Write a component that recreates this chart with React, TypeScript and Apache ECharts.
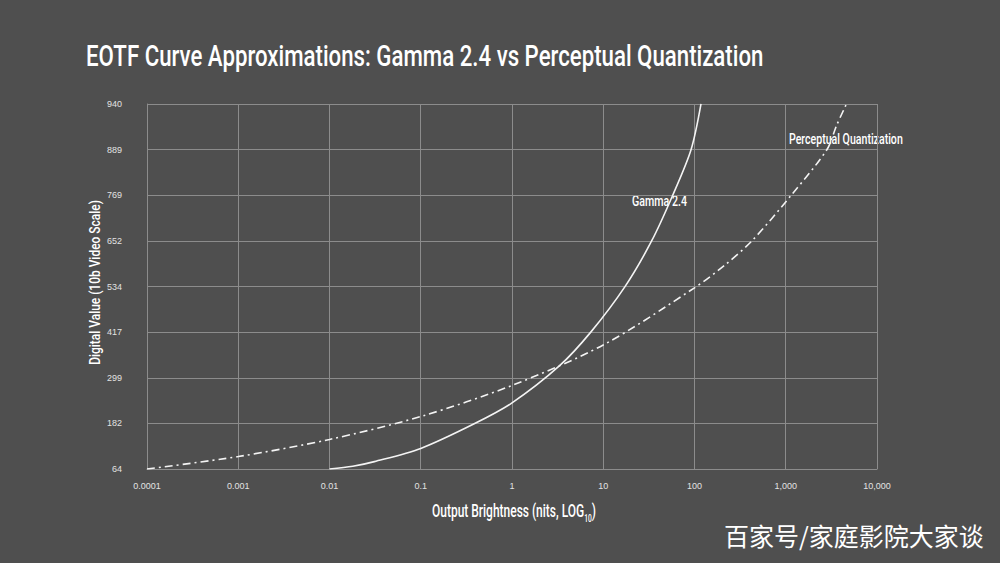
import React, { useEffect, useRef } from "react";
import * as echarts from "echarts";

const X_LABELS = ["0.0001", "0.001", "0.01", "0.1", "1", "10", "100", "1,000", "10,000"];
const Y_LABELS = ["64", "182", "299", "417", "534", "652", "769", "889", "940"];
const CODE_BLACK = 64;
const CODE_STEP = 117.333;

const GAMMA_NITS = [0.01, 0.018, 0.031, 0.1, 0.39, 1, 3.3, 7.3, 17.3, 34, 57.7, 91.6, 117.8];
const GAMMA_CODE = [64, 71, 83, 117, 181, 234, 329, 416, 533, 651, 768, 885, 1003];

const PQ_NITS = [0.0001, 0.001, 0.01, 0.1, 1, 10, 100, 214, 427, 1148, 2818, 3630, 4570];
const PQ_CODE = [64, 96, 140, 199, 279, 383, 530, 588, 651, 768, 885, 949, 1000];

const TITLE = "EOTF Curve Approximations: Gamma 2.4 vs Perceptual Quantization";
const X_NAME = "Output Brightness (nits, LOG";
const X_NAME_SUB = "10";
const Y_NAME = "Digital Value (10b Video Scale)";
const GAMMA_LABEL = "Gamma 2.4";
const PQ_LABEL = "Perceptual Quantization";
const WATERMARK = "百家号/家庭影院大家谈";

const FONT = "Roboto, 'Liberation Sans', Arial, sans-serif";
const WEIGHT = 500;

function measure(text: string, size: number): number {
  const ctx = document.createElement("canvas").getContext("2d")!;
  ctx.font = `${WEIGHT} ${size}px Roboto, 'Liberation Sans', Arial, sans-serif`;
  return ctx.measureText(text).width;
}

export default function App() {
  const ref = useRef<HTMLDivElement>(null);
  useEffect(() => {
    document.body.style.margin = "0";
    const chart = echarts.init(ref.current!, null, { renderer: "svg" });
    const gridColor = "#8c8c8c";
    const toPairs = (xs: number[], ys: number[]) => xs.map((x, i) => [x, ys[i] - CODE_BLACK]);

    const condensed = (text: string, size: number, width: number) => width / measure(text, size);
    const txt = (text: string, size: number, extra: object = {}) => ({
      text,
      fill: "#ffffff",
      fontSize: size,
      fontFamily: FONT,
      fontWeight: WEIGHT,
      verticalAlign: "middle",
      ...extra,
    });

    const xw1 = measure(X_NAME, 18);
    const xw2 = measure(X_NAME_SUB, 10);
    const xw3 = measure(")", 18);
    const xScale = 164 / (xw1 + xw2 + xw3);

    chart.setOption({
      animation: false,
      backgroundColor: "#4f4f4f",
      grid: { left: 147, right: 123, top: 104, bottom: 94 },
      xAxis: {
        type: "log",
        logBase: 10,
        min: 0.0001,
        max: 10000,
        splitNumber: 8,
        axisLine: { show: true, lineStyle: { color: gridColor } },
        axisTick: { show: false },
        axisLabel: {
          color: "#e2e2e2",
          fontSize: 9,
          fontFamily: "'Liberation Sans', Arial, sans-serif",
          margin: 12,
          formatter: (v: number) => X_LABELS[Math.round(Math.log10(v)) + 4] ?? "",
        },
        splitLine: { show: true, lineStyle: { color: gridColor, width: 1 } },
        minorTick: { show: false },
      },
      yAxis: {
        type: "value",
        min: 0,
        max: CODE_STEP * 8,
        interval: CODE_STEP,
        axisLine: { show: true, lineStyle: { color: gridColor } },
        axisTick: { show: false },
        axisLabel: {
          color: "#e2e2e2",
          fontSize: 9,
          fontFamily: "'Liberation Sans', Arial, sans-serif",
          margin: 25,
          formatter: (v: number) => Y_LABELS[Math.round(v / CODE_STEP)] ?? "",
        },
        splitLine: { show: true, lineStyle: { color: gridColor, width: 1 } },
      },
      series: [
        {
          name: GAMMA_LABEL,
          type: "line",
          data: toPairs(GAMMA_NITS, GAMMA_CODE),
          showSymbol: false,
          smooth: 0.3,
          lineStyle: { color: "#f4f4f4", width: 1.6 },
          clip: true,
        },
        {
          name: PQ_LABEL,
          type: "line",
          data: toPairs(PQ_NITS, PQ_CODE),
          showSymbol: false,
          smooth: 0.3,
          lineStyle: { color: "#f4f4f4", width: 1.6, type: [8, 4, 2, 4] },
          clip: true,
        },
      ],
      graphic: [
        {
          type: "text",
          x: 86,
          y: 56,
          scaleX: condensed(TITLE, 30, 678),
          style: txt(TITLE, 30, { align: "left" }),
        },
        {
          type: "text",
          x: 94,
          y: 282.5,
          rotation: Math.PI / 2,
          scaleX: condensed(Y_NAME, 15, 165),
          style: txt(Y_NAME, 15, { align: "center" }),
        },
        {
          type: "group",
          x: 432,
          y: 511,
          scaleX: xScale,
          children: [
            { type: "text", x: 0, y: 0, style: txt(X_NAME, 18) },
            { type: "text", x: xw1, y: 7, style: txt(X_NAME_SUB, 10) },
            { type: "text", x: xw1 + xw2, y: 0, style: txt(")", 18) },
          ],
        },
        {
          type: "text",
          x: 632,
          y: 200.5,
          scaleX: condensed(GAMMA_LABEL, 15, 55),
          style: txt(GAMMA_LABEL, 15),
        },
        {
          type: "text",
          x: 789,
          y: 138.5,
          scaleX: condensed(PQ_LABEL, 15, 114),
          style: txt(PQ_LABEL, 15),
        },
        {
          type: "text",
          x: 724,
          y: 535,
          style: {
            text: WATERMARK,
            fill: "#ffffff",
            fontSize: 25,
            fontFamily: "'Noto Sans CJK SC', sans-serif",
            verticalAlign: "middle",
          },
        },
      ],
    });
    return () => chart.dispose();
  }, []);
  return <div ref={ref} style={{ width: 1000, height: 563, position: "absolute", left: 0, top: 0 }} />;
}
